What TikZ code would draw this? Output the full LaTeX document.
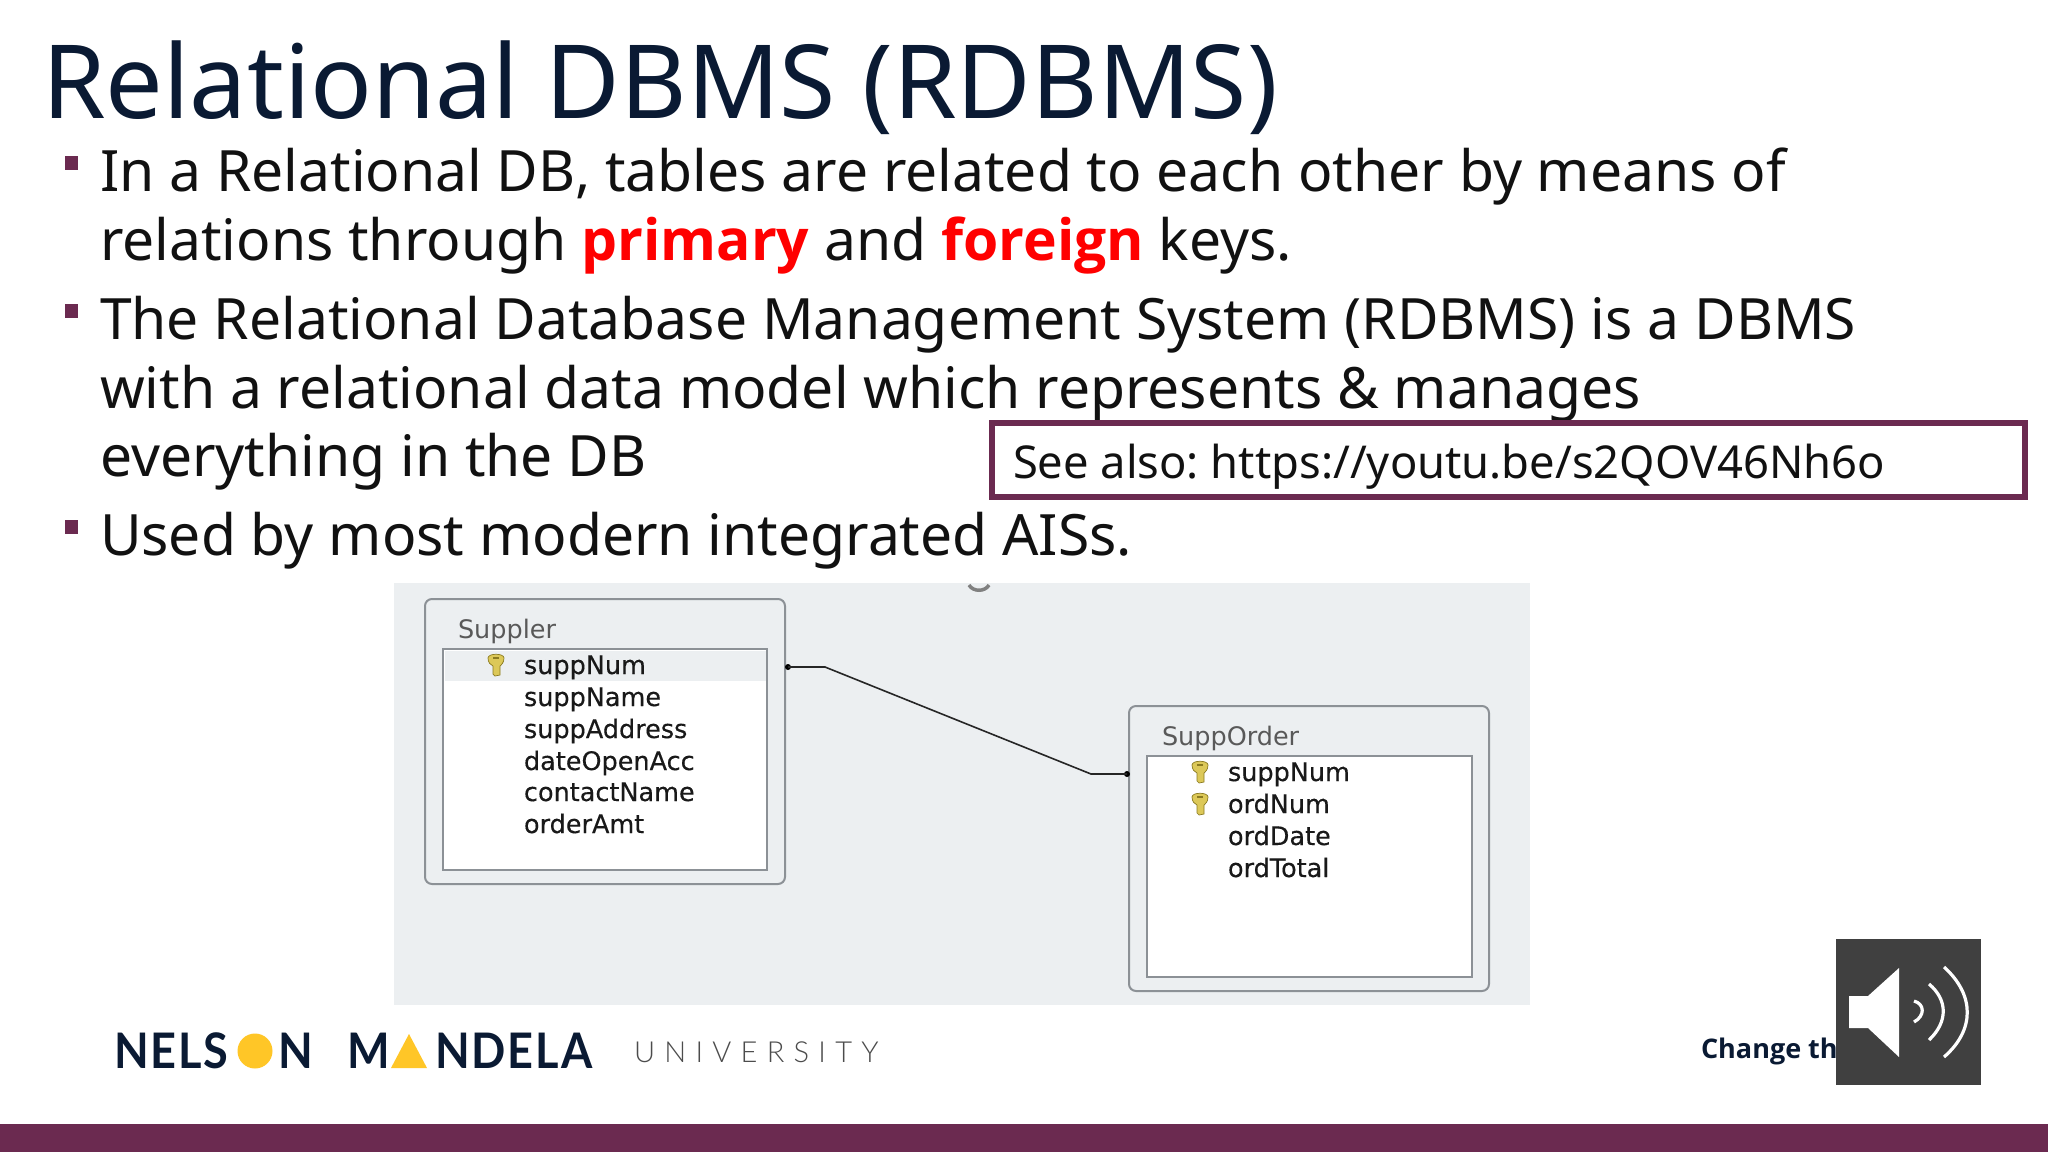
\documentclass[tikz,border=0pt]{standalone}
\usepackage{fontspec}
\setmainfont{Noto Sans}
\newfontfamily\redfont{Open Sans}
\newfontfamily\fieldfont[FakeBold=0.3]{DejaVu Sans}
\newfontfamily\titlefont{DejaVu Sans}
\newfontfamily\logoletter[LetterSpace=4,FakeStretch=0.92]{Lato}
\newfontfamily\unifont[LetterSpace=32]{Lato Light}
\definecolor{plum}{HTML}{6B2A50}
\definecolor{navy}{HTML}{0A1A33}
\definecolor{ink}{HTML}{111111}
\definecolor{panel}{HTML}{ECEFF1}
\definecolor{frame}{HTML}{8C9196}
\definecolor{keygold}{HTML}{DCC858}
\definecolor{keyedge}{HTML}{8A7A20}
\definecolor{logoyellow}{HTML}{FFC627}
\definecolor{speakerbg}{HTML}{404040}
\newcommand{\fs}[1]{\fontsize{#1}{#1}\selectfont}
\newcommand{\redword}[1]{\textcolor{red}{\redfont\bfseries #1}}
\tikzset{
  x=1pt,y=-1pt,
  txt/.style={anchor=base west,inner sep=0pt,outer sep=0pt},
  titletext/.style={txt,text=navy,font=\frenchspacing\fs{102.3}},
  bodytext/.style={txt,text=ink,font=\frenchspacing\fs{57}},
  bulletbox/.style={fill=plum,draw=none},
  linkbox/.style={draw=plum,line width=6pt,fill=white},
  tableouter/.style={draw=frame,line width=2pt,fill=panel,rounded corners=7pt},
  tableinner/.style={draw=frame,line width=2.4pt,fill=white},
  tabletitle/.style={txt,text=black!65,font=\titlefont\fs{25.5}},
  fieldtext/.style={txt,text=black!90,font=\fieldfont\fs{25.5}},
  connector/.style={draw=black!85,line width=1.6pt},
  joint/.style={circle,fill=black,inner sep=0pt,minimum size=6pt},
  logotext/.style={txt,text=navy,font=\logoletter\bfseries\fs{49}},
}
\newcommand{\keyicon}[2]{%
  \fill[keygold,draw=keyedge,line width=.7pt] (#1-8,#2-6) .. controls (#1-8,#2-11) and (#1+8,#2-11) .. (#1+8,#2-6) .. controls (#1+8,#2-1) and (#1+5,#2+1) .. (#1+4,#2+2) -- (#1+4,#2+11) -- (#1-1,#2+12) -- (#1-3,#2+10) -- (#1-3,#2+2) .. controls (#1-5,#2+1) and (#1-8,#2-1) .. (#1-8,#2-6) -- cycle;
  \fill[keyedge] (#1-3,#2-7) rectangle (#1+3,#2-5);
}
\begin{document}
\begin{tikzpicture}
\useasboundingbox (0,0) rectangle (2048,1152);
\fill[white] (0,0) rectangle (2048,1152);
% title
\node[titletext] (title) at (42,118) {Relational DBMS (RDBMS)};
% bullets
\fill[bulletbox] (65,156) rectangle (78,170);
\fill[bulletbox] (65,304) rectangle (78,318);
\fill[bulletbox] (65,520) rectangle (78,534);
\node[bodytext] (l1) at (100,191) {In a Relational DB, tables are related to each other by means of};
\node[bodytext] (l2) at (100,260) {relations through \redword{primary} and \redword{foreign} keys.};
\node[bodytext] (l3) at (100,339) {The Relational Database Management System (RDBMS) is a DBMS};
\node[bodytext] (l4) at (100,408) {with a relational data model which represents \& manages};
\node[bodytext] (l5) at (100,476) {everything in the DB};
\node[bodytext] (l6) at (100,555) {Used by most modern integrated AISs.};
% link box
\draw[linkbox] (992,423) rectangle (2025,497);
\node[txt,text=ink,font=\frenchspacing\fs{45.3}] (link) at (1013,478) {See also: https://youtu.be/s2QOV46Nh6o};
% diagram panel
\fill[panel] (394,583) rectangle (1530,1005);
\draw[black!50,line width=3.5pt] (969,585) .. controls (973,592) and (985,592) .. (989,585);
% supplier
\draw[tableouter] (425,599) rectangle (785,884);
\draw[tableinner] (443,649) rectangle (767,870);
\fill[panel] (444.5,650.5) rectangle (765.5,681);
\node[tabletitle] (t1) at (458,638) {Suppler};
\keyicon{496}{664}
\node[fieldtext] (a1) at (524,674) {suppNum};
\node[fieldtext] (a2) at (524,706) {suppName};
\node[fieldtext] (a3) at (524,738) {suppAddress};
\node[fieldtext] (a4) at (524,770) {dateOpenAcc};
\node[fieldtext] (a5) at (524,801) {contactName};
\node[fieldtext] (a6) at (524,833) {orderAmt};
% supporder
\draw[tableouter] (1129,706) rectangle (1489,991);
\draw[tableinner] (1147,756) rectangle (1472,977);
\node[tabletitle] (t2) at (1162,745) {SuppOrder};
\keyicon{1200}{771}
\keyicon{1200}{803}
\node[fieldtext] (b1) at (1228,781) {suppNum};
\node[fieldtext] (b2) at (1228,813) {ordNum};
\node[fieldtext] (b3) at (1228,845) {ordDate};
\node[fieldtext] (b4) at (1228,877) {ordTotal};
% connector
\node[joint] (ja) at (788,667) {};
\node[joint] (jb) at (1127,774) {};
\coordinate (ba) at (825,667);
\coordinate (bb) at (1091,774);
\draw[connector] (ja.center) -- (ba) -- (bb) -- (jb.center);
% logo
\node[logotext] (n1) at (114,1068) {NELS};
\fill[logoyellow] (255,1051) ellipse (17.5 and 17.5);
\node[logotext] (n2) at (278,1068) {N};
\node[logotext] (m1) at (347,1068) {M};
\fill[logoyellow] (391,1068) -- (409,1034) -- (427,1068) -- cycle;
\node[logotext] (m2) at (435,1068) {NDELA};
\node[txt,text=black!70,font=\unifont\fs{29}] (uni) at (634,1062) {UNIVERSITY};
% change text
\node[txt,text=navy,font=\redfont\bfseries\fs{27}] (chg) at (1701,1058) {Change th};
% speaker
\fill[speakerbg] (1836,939) rectangle (1981,1085);
\fill[white] (1849,996) -- (1868,996) -- (1899,968) -- (1899,1057) -- (1868,1028) -- (1849,1028) -- cycle;
\draw[white,line width=3.2pt] (1914,1001) .. controls (1925,1004) and (1925,1016) .. (1914,1022);
\draw[white,line width=3.2pt] (1929,984) .. controls (1948,1000) and (1948,1022) .. (1929,1040);
\draw[white,line width=3.2pt] (1944,967) .. controls (1975,995) and (1975,1030) .. (1944,1057);
% bar
\fill[plum] (0,1124) rectangle (2048,1152);
\end{tikzpicture}
\end{document}
